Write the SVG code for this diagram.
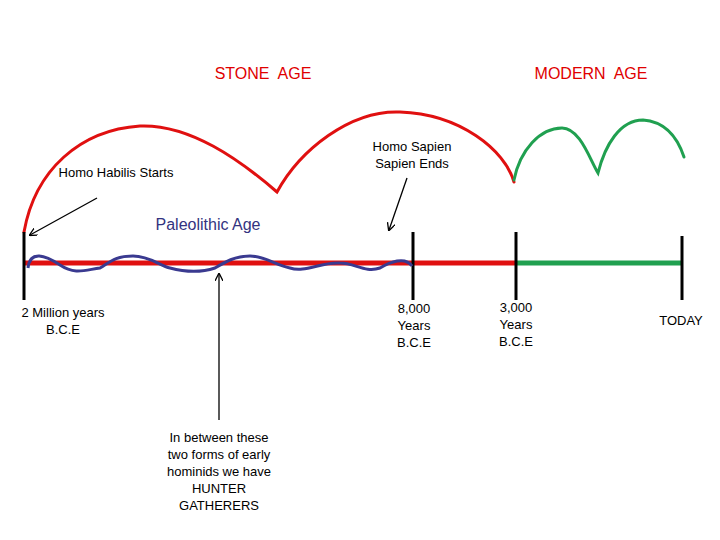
<svg xmlns="http://www.w3.org/2000/svg" width="720" height="540" viewBox="0 0 720 540">
<style>
text{font-family:"Liberation Sans",Arial,sans-serif;font-size:13px;fill:#000;white-space:pre}
.t{font-size:16px;fill:#e00000}
.k{stroke:#000;stroke-width:3}
.a{stroke:#000;stroke-width:1.3;fill:none}
</style>
<defs><marker id="ar" markerWidth="8" markerHeight="8" refX="7" refY="4" orient="auto" markerUnits="userSpaceOnUse"><path d="M0,0 L8,4 L0,8" fill="none" stroke="#000" stroke-width="1.3"/></marker></defs>
<rect width="720" height="540" fill="#fff"/>
<g id="arcs" fill="none" stroke-width="3" stroke-linecap="round">
<path d="M24,232 C35,170 80,130 140,126 C190,124 240,160 277,192 C300,150 350,110 400,112 C460,114 505,150 514,182" stroke="#e01010"/>
<path d="M514,180 C520,150 540,128 562,128 C580,128 590,160 598,173 C605,145 620,120 643,120 C670,122 680,145 684,157" stroke="#20a050"/>
</g>
<g id="labels">
<text class="t" x="263" y="79" text-anchor="middle" xml:space="preserve">STONE  AGE</text>
<text class="t" x="591" y="79" text-anchor="middle" xml:space="preserve">MODERN  AGE</text>
<text x="116" y="177" text-anchor="middle">Homo Habilis Starts</text>
<text x="412" y="151" text-anchor="middle">Homo Sapien</text>
<text x="412" y="168" text-anchor="middle">Sapien Ends</text>
<text x="208" y="230" text-anchor="middle" style="font-size:16px;fill:#333380">Paleolithic Age</text>
<text x="63" y="317" text-anchor="middle">2 Million years</text>
<text x="63" y="334" text-anchor="middle">B.C.E</text>
<text x="414" y="313" text-anchor="middle">8,000</text>
<text x="414" y="330" text-anchor="middle">Years</text>
<text x="414" y="347" text-anchor="middle">B.C.E</text>
<text x="516" y="312" text-anchor="middle">3,000</text>
<text x="516" y="329" text-anchor="middle">Years</text>
<text x="516" y="346" text-anchor="middle">B.C.E</text>
<text x="681" y="325" text-anchor="middle">TODAY</text>
<text x="219" y="442" text-anchor="middle">In between these</text>
<text x="219" y="459" text-anchor="middle">two forms of early</text>
<text x="219" y="476" text-anchor="middle">hominids we have</text>
<text x="219" y="493" text-anchor="middle">HUNTER</text>
<text x="219" y="510" text-anchor="middle">GATHERERS</text>
</g>
<g id="timeline">
<line x1="24" y1="263" x2="516" y2="263" stroke="#e01010" stroke-width="5"/>
<line x1="516" y1="263" x2="682" y2="263" stroke="#20a050" stroke-width="5"/>
<line class="k" x1="24" y1="232" x2="24" y2="300"/>
<line class="k" x1="413" y1="232" x2="413" y2="300"/>
<line class="k" x1="516" y1="232" x2="516" y2="300"/>
<line class="k" x1="682" y1="236" x2="682" y2="300"/>
<path d="M28,268 C30,250 45,255 60,265 C75,275 85,270 100,268 C110,262 115,256 133,256 C150,256 160,266 170,268 C185,272 200,273 215,268 C225,262 235,256 250,256 C265,256 275,265 290,268 C305,273 320,262 340,263 C355,263 365,273 380,268 C390,262 405,256 412,266" fill="none" stroke="#3a3a90" stroke-width="3"/>
</g>
<g id="connectors">
<line class="a" x1="97" y1="198" x2="30" y2="235" marker-end="url(#ar)"/>
<line class="a" x1="407" y1="178" x2="389" y2="230" marker-end="url(#ar)"/>
<line class="a" x1="219" y1="420" x2="219" y2="274" marker-end="url(#ar)"/>
</g>
</svg>
